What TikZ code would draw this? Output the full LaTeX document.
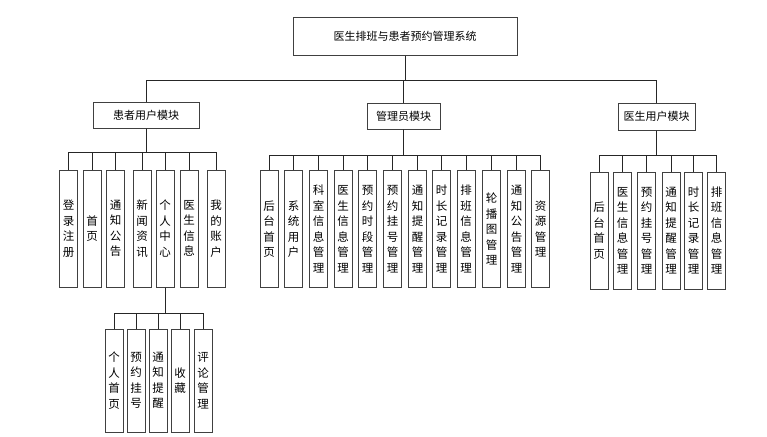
\documentclass[tikz,border=0pt]{standalone}
\usepackage{fontspec}
\newfontfamily\cjk{Noto Sans CJK SC}
\tikzset{
  modbox/.style={
    draw=black!75,
    line width=1pt,
    inner sep=0pt,
    fill=white,
    font=\cjk\fontsize{11pt}{14pt}\selectfont
  },
  leafbox/.style={
    draw=black!75,
    line width=1pt,
    inner sep=0pt,
    minimum width=18pt,
    minimum height=117pt,
    align=center,
    font=\cjk\fontsize{11.5pt}{15.5pt}\selectfont
  },
  link/.style={
    line width=0.8pt,
    black!85
  }
}

\begin{document}
\begin{tikzpicture}[x=1pt,y=-1pt]
  \useasboundingbox (0,0) rectangle (767,436);
  % root and modules
  \node[modbox, minimum width=224pt, minimum height=37pt] (sys) at (405,36.5) {医生排班与患者预约管理系统};
  \node[modbox, minimum width=106pt, minimum height=26pt] (pat) at (146,115) {患者用户模块};
  \node[modbox, minimum width=73pt, minimum height=26pt] (adm) at (403.5,116) {管理员模块};
  \node[modbox, minimum width=77pt, minimum height=27pt] (doc) at (656.5,116.5) {医生用户模块};
  \draw[link] (sys.south)--++(0,25) -| (pat.north);
  \draw[link] (sys.south)--++(0,25) -| (adm.north);
  \draw[link] (sys.south)--++(0,25) -| (doc.north);
  % patient module
  \node[leafbox] (p1) at (68.5,228.5) {登\\录\\注\\册};
  \node[leafbox] (p2) at (92,228.5) {首\\页};
  \node[leafbox] (p3) at (115.5,228.5) {通\\知\\公\\告};
  \node[leafbox] (p4) at (142,228.5) {新\\闻\\资\\讯};
  \node[leafbox] (p5) at (165,228.5) {个\\人\\中\\心};
  \node[leafbox] (p6) at (189,228.5) {医\\生\\信\\息};
  \node[leafbox] (p7) at (216,228.5) {我\\的\\账\\户};
  \foreach \c in {p1,p2,p3,p4,p5,p6,p7}
    \draw[link] (pat.south)--++(0,24) -| (\c.north);
  % personal centre
  \node[leafbox, minimum height=103pt] (s1) at (114,380.5) {个\\人\\首\\页};
  \node[leafbox, minimum height=103pt] (s2) at (136,380.5) {预\\约\\挂\\号};
  \node[leafbox, minimum height=103pt] (s3) at (158,380.5) {通\\知\\提\\醒};
  \node[leafbox, minimum height=103pt] (s4) at (180,380.5) {收\\藏};
  \node[leafbox, minimum height=103pt] (s5) at (203,380.5) {评\\论\\管\\理};
  \foreach \c in {s1,s2,s3,s4,s5}
    \draw[link] (p5.south)--++(0,26) -| (\c.north);
  % admin module
  \node[leafbox] (a1) at (269,229) {后\\台\\首\\页};
  \node[leafbox] (a2) at (293.5,229) {系\\统\\用\\户};
  \node[leafbox] (a3) at (318.5,229) {科\\室\\信\\息\\管\\理};
  \node[leafbox] (a4) at (343,229) {医\\生\\信\\息\\管\\理};
  \node[leafbox] (a5) at (367.5,229) {预\\约\\时\\段\\管\\理};
  \node[leafbox] (a6) at (392.5,229) {预\\约\\挂\\号\\管\\理};
  \node[leafbox] (a7) at (417.5,229) {通\\知\\提\\醒\\管\\理};
  \node[leafbox] (a8) at (441.5,229) {时\\长\\记\\录\\管\\理};
  \node[leafbox] (a9) at (466,229) {排\\班\\信\\息\\管\\理};
  \node[leafbox] (a10) at (491.5,229) {轮\\播\\图\\管\\理};
  \node[leafbox] (a11) at (516.5,229) {通\\知\\公\\告\\管\\理};
  \node[leafbox] (a12) at (540.5,229) {资\\源\\管\\理};
  \foreach \c in {a1,a2,a3,a4,a5,a6,a7,a8,a9,a10,a11,a12}
    \draw[link] (adm.south)--++(0,26) -| (\c.north);
  % doctor module
  \node[leafbox] (d1) at (599,230.5) {后\\台\\首\\页};
  \node[leafbox] (d2) at (622.5,230.5) {医\\生\\信\\息\\管\\理};
  \node[leafbox] (d3) at (646.5,230.5) {预\\约\\挂\\号\\管\\理};
  \node[leafbox] (d4) at (671,230.5) {通\\知\\提\\醒\\管\\理};
  \node[leafbox] (d5) at (693.5,230.5) {时\\长\\记\\录\\管\\理};
  \node[leafbox] (d6) at (716.5,230.5) {排\\班\\信\\息\\管\\理};
  \foreach \c in {d1,d2,d3,d4,d5,d6}
    \draw[link] (doc.south)--++(0,25) -| (\c.north);
\end{tikzpicture}
\end{document}
